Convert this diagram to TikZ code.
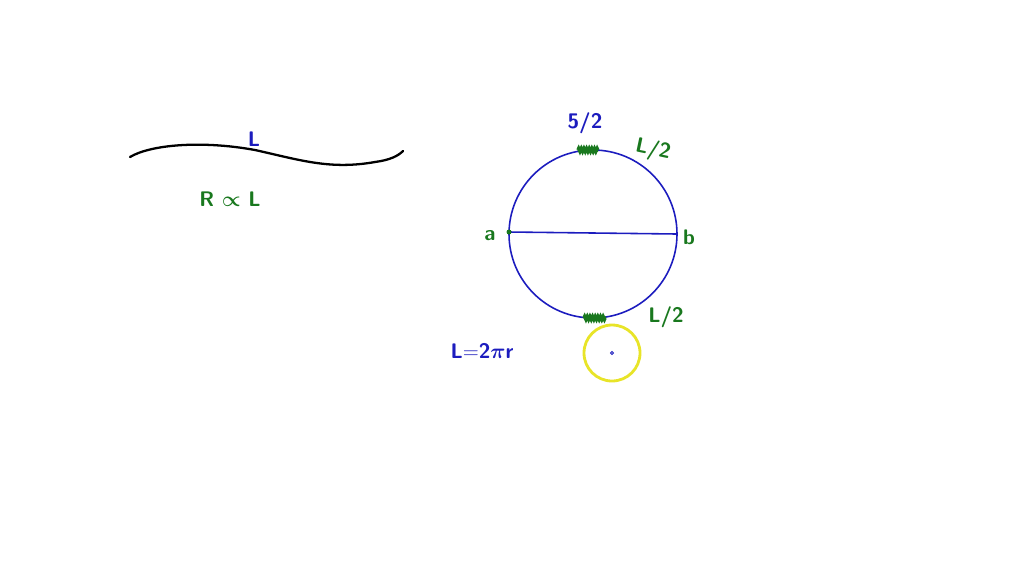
\documentclass[tikz,border=0pt]{standalone}
\usepackage{amsmath}
\usetikzlibrary{decorations.pathmorphing}
\definecolor{inkblue}{RGB}{28,28,190}
\definecolor{inkgreen}{RGB}{25,120,30}
\definecolor{inkyellow}{RGB}{232,228,40}
\tikzset{
  blabel/.style={text=inkblue,font=\sffamily\bfseries\large,inner sep=1pt},
  glabel/.style={text=inkgreen,font=\sffamily\bfseries\large,inner sep=1pt},
  charge/.style={inkgreen,line width=2pt,decorate,decoration={zigzag,segment length=1.5pt,amplitude=0.8pt}}
}
\begin{document}
\begin{tikzpicture}[x=0.02cm,y=-0.02cm]
        \useasboundingbox (0,0) rectangle (1024,576);

        % Draht
        \draw[line width=1.3pt,line cap=round] (130,157) .. controls (150,145) and (200,140) .. (255,150)
            .. controls (300,160) and (330,170) .. (375,162) .. controls (390,160) and (398,156) .. (403,151);
        \node[blabel] (wireL) at (254,139) {L};
        \node[glabel] (prop) at (230,199) {R $\boldsymbol{\propto}$ L};

        % Ring
        \coordinate (O) at (593,234);
        \draw[inkblue,line width=0.9pt] (O) circle (84);
        \coordinate (A) at (509,232);
        \coordinate (B) at (677,234);
        \draw[inkblue,line width=0.9pt] (A) -- (B);
        \fill[inkgreen] (A) circle (2.5);
        \coordinate (T1) at (578,150);
        \coordinate (T2) at (598,150);
        \coordinate (U1) at (584,318);
        \coordinate (U2) at (606,318);
        \draw[charge] (T1) -- (T2);
        \draw[charge] (U1) -- (U2);

        \node[glabel] (a) at (490,236) {a};
        \node[glabel] (b) at (689,237) {b};
        \node[blabel] (top) at (585,123) {5/2};
        \node[glabel,rotate=-12] (half1) at (653,150) {L/2};
        \node[glabel] (half2) at (666,317) {L/2};
        \node[blabel] (law) at (482,351) {L$=$2$\boldsymbol{\pi}$r};

        % kleiner Kreis
        \coordinate (C) at (612,353);
        \draw[inkyellow,line width=1.6pt] (C) circle (28);
        \draw[inkblue,line width=0.5pt] (C) circle (1.5);
    \end{tikzpicture}
\end{document}
